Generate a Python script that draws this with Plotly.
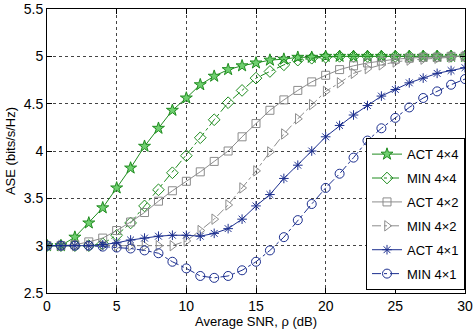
import plotly.graph_objects as go

snr = list(range(0, 31))

act_4x4 = [3.0, 3.0, 3.09, 3.24, 3.40, 3.61, 3.82, 4.05, 4.24, 4.43, 4.56, 4.70, 4.79, 4.86, 4.90, 4.93,
           4.96, 4.97, 4.99, 4.99, 5.0, 5.0, 5.0, 5.0, 5.0, 5.0, 5.0, 5.0, 5.0, 5.0, 5.0]
min_4x4 = [3.0, 3.0, 3.0, 3.0, 3.02, 3.11, 3.24, 3.42, 3.59, 3.77, 3.95, 4.14, 4.33, 4.51, 4.64, 4.77,
           4.84, 4.91, 4.96, 4.98, 4.99, 5.0, 5.0, 5.0, 5.0, 5.0, 5.0, 5.0, 5.0, 5.0, 5.0]
act_4x2 = [3.0, 3.0, 3.01, 3.04, 3.08, 3.16, 3.25, 3.35, 3.47, 3.58, 3.68, 3.78, 3.89, 4.0, 4.15, 4.29,
           4.43, 4.54, 4.64, 4.73, 4.80, 4.86, 4.90, 4.93, 4.95, 4.97, 4.98, 4.99, 4.99, 5.0, 5.0]
min_4x2 = [3.0, 3.0, 3.0, 3.0, 3.0, 3.0, 3.0, 3.0, 3.0, 3.0, 3.05, 3.16, 3.28, 3.43, 3.61, 3.79,
           3.99, 4.18, 4.34, 4.49, 4.63, 4.72, 4.82, 4.87, 4.91, 4.94, 4.96, 4.97, 4.98, 4.99, 5.0]
act_4x1 = [3.0, 3.0, 3.0, 3.0, 3.01, 3.03, 3.06, 3.08, 3.10, 3.11, 3.11, 3.10, 3.13, 3.18, 3.28, 3.42,
           3.54, 3.71, 3.85, 4.0, 4.15, 4.27, 4.38, 4.48, 4.58, 4.65, 4.72, 4.77, 4.82, 4.85, 4.88]
min_4x1 = [3.0, 3.0, 3.0, 3.0, 2.99, 2.98, 2.97, 2.95, 2.92, 2.83, 2.76, 2.68, 2.66, 2.68, 2.74, 2.83,
           2.95, 3.09, 3.27, 3.44, 3.61, 3.76, 3.93, 4.11, 4.24, 4.35, 4.46, 4.56, 4.63, 4.70, 4.76]

x_ticks = [0, 5, 10, 15, 20, 25, 30]
y_ticks = [2.5, 3, 3.5, 4, 4.5, 5, 5.5]
y_tick_labels = ["2.5", "3", "3.5", "4", "4.5", "5", "5.5"]

GREEN = "#1f8c1f"
GRAY = "#8c8c8c"
BLUE = "#1c2f8f"

series = [
    ("ACT 4×4", act_4x4, GREEN, "solid", "star", "#6fcf6f", GREEN, 9),
    ("MIN 4×4", min_4x4, GREEN, "dashdot", "diamond-open", None, GREEN, 9),
    ("ACT 4×2", act_4x2, GRAY, "solid", "square-open", None, GRAY, 8),
    ("MIN 4×2", min_4x2, GRAY, "dashdot", "triangle-right-open", None, GRAY, 9),
    ("ACT 4×1", act_4x1, BLUE, "solid", "asterisk-open", None, BLUE, 8),
    ("MIN 4×1", min_4x1, BLUE, "dashdot", "circle-open", None, BLUE, 9),
]

fig = go.Figure()
for i, (name, ys, col, dash, sym, fill, lc, sz) in enumerate(series):
    marker = dict(symbol=sym, size=sz, color=fill if fill else col,
                  line=dict(color=lc, width=1))
    fig.add_trace(go.Scatter(
        x=snr, y=ys, name=name, mode="lines+markers",
        line=dict(color=col, width=1, dash=dash),
        marker=marker, legendgroup=f"g{i}",
    ))

axis_common = dict(
    showline=True, linecolor="black", linewidth=1, mirror="ticks",
    ticks="inside", ticklen=5, tickcolor="black",
    showgrid=True, gridcolor="#444444", gridwidth=1, griddash="dot",
    zeroline=False, ticklabeloverflow="allow", automargin=False,
    tickfont=dict(family="Liberation Sans, Arial", size=14, color="black"),
    title_font=dict(family="Liberation Sans, Arial", size=13, color="black"),
)

fig.update_layout(
    width=474, height=331,
    margin=dict(l=47, r=9, t=9, b=38),
    paper_bgcolor="white", plot_bgcolor="white",
    xaxis=dict(range=[0, 30], tickvals=x_ticks,
               title=dict(text="Average SNR, ρ (dB)", standoff=4), **axis_common),
    yaxis=dict(range=[2.5, 5.5], tickvals=y_ticks, ticktext=y_tick_labels,
               title=dict(text="ASE (bits/s/Hz)", standoff=5), **axis_common),
    legend=dict(x=1, y=0.01, xanchor="right", yanchor="bottom",
                bgcolor="white", bordercolor="black", borderwidth=1,
                font=dict(family="Liberation Sans, Arial", size=13, color="black"),
                tracegroupgap=4, itemwidth=30),
    showlegend=True,
)

fig.write_html("out.html")
